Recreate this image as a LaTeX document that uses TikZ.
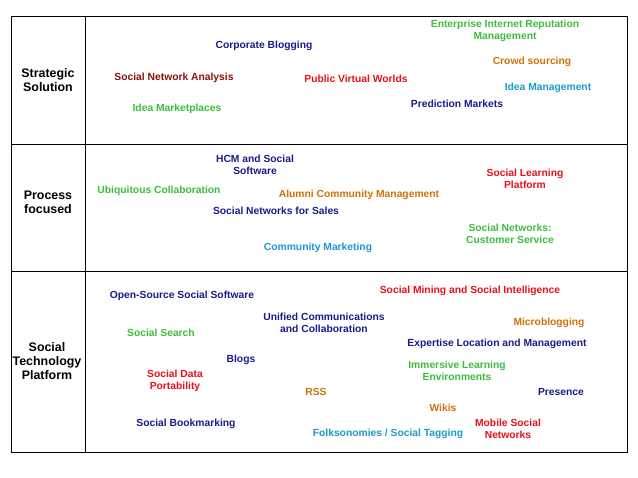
\documentclass[tikz,border=0pt]{standalone}
\usepackage{fontspec}
\setmainfont{Liberation Sans}
\begin{document}
\begin{tikzpicture}[x=1pt,y=-1pt,
  t/.style={font=\fontsize{10.3}{11.5}\selectfont\bfseries,align=center,inner sep=0pt},
  cat/.style={font=\fontsize{12.4}{14}\selectfont\bfseries,align=center,inner sep=0pt}]
\definecolor{nv}{HTML}{1A1A8C}\definecolor{dr}{HTML}{8B1010}
\definecolor{rd}{HTML}{E8101A}\definecolor{gr}{HTML}{3CBE3C}
\definecolor{or}{HTML}{D2700A}\definecolor{cy}{HTML}{1A9AC8}
\useasboundingbox (0,0) rectangle (638,478);
\draw[line width=0.8pt] (11,16) rectangle (627,452);
\draw[line width=0.8pt] (85,16) -- (85,452);
\draw[line width=0.8pt] (11,144) -- (627,144);
\draw[line width=0.8pt] (11,271) -- (627,271);
\node[cat] (c1) at (48,80) {Strategic\\Solution};
\node[cat] (c2) at (48,202) {Process\\focused};
\node[cat] (c3) at (47,361) {Social\\Technology\\Platform};
\node[t,nv] (a1) at (264,46) {Corporate Blogging};
\node[t,gr] (a2) at (505,31) {Enterprise Internet Reputation\\Management};
\node[t,or] (a3) at (532,62) {Crowd sourcing};
\node[t,dr] (a4) at (174,78) {Social Network Analysis};
\node[t,rd] (a5) at (356,79) {Public Virtual Worlds};
\node[t,cy] (a6) at (548,88) {Idea Management};
\node[t,nv] (a7) at (457,104) {Prediction Markets};
\node[t,gr] (a8) at (177,109) {Idea Marketplaces};
\node[t,nv] (b1) at (255,165) {HCM and Social\\Software};
\node[t,rd] (b2) at (525,179) {Social Learning\\Platform};
\node[t,gr] (b3) at (159,191) {Ubiquitous Collaboration};
\node[t,or] (b4) at (359,195) {Alumni Community Management};
\node[t,nv] (b5) at (276,211) {Social Networks for Sales};
\node[t,gr] (b6) at (510,234) {Social Networks:\\Customer Service};
\node[t,cy] (b7) at (318,248) {Community Marketing};
\node[t,nv] (d1) at (182,296) {Open-Source Social Software};
\node[t,rd] (d2) at (470,291) {Social Mining and Social Intelligence};
\node[t,nv] (d3) at (324,323) {Unified Communications\\and Collaboration};
\node[t,or] (d4) at (549,323) {Microblogging};
\node[t,gr] (d5) at (161,333) {Social Search};
\node[t,nv] (d6) at (497,344) {Expertise Location and Management};
\node[t,nv] (d7) at (241,360) {Blogs};
\node[t,gr] (d8) at (457,371) {Immersive Learning\\Environments};
\node[t,rd] (d9) at (175,381) {Social Data\\Portability};
\node[t,or] (d10) at (316,392) {RSS};
\node[t,nv] (d11) at (561,392) {Presence};
\node[t,or] (d12) at (443,408) {Wikis};
\node[t,nv] (d13) at (186,424) {Social Bookmarking};
\node[t,cy] (d14) at (388,434) {Folksonomies / Social Tagging};
\node[t,rd] (d15) at (508,429) {Mobile Social\\Networks};
\end{tikzpicture}
\end{document}
